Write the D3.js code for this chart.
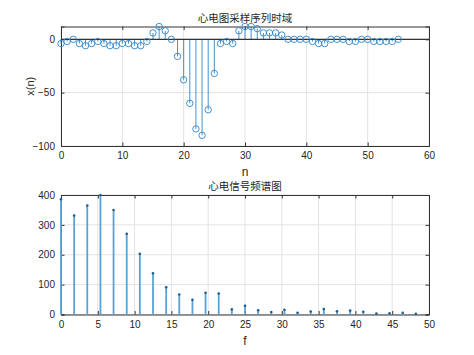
<!DOCTYPE html>
<html>
<head>
<meta charset="utf-8">
<script src="https://cdn.jsdelivr.net/npm/d3@7"></script>
<style>
  body { margin: 0; background: #fff; }
  svg text { font-family: "Liberation Sans", Arial, sans-serif; fill: #262626; }
  .cjk { font-family: "Noto Sans CJK SC", sans-serif; }
</style>
</head>
<body>
<div id="chart"></div>
<script>
// ---- data ----
// time domain: x(n), n = 0..55
const nValues = d3.range(56);
const xValues = [-4, -2, 0, -4, -6, -4, -2, -4, -6, -6, -4, -4, -6, -6, -2, 6, 12, 8, 0, -16,
  -38, -60, -84, -90, -66, -32, -4, -2, -4, 8, 12, 12, 10, 6, 6, 6, 4, 0, 0, 0,
  0, -2, -4, -4, 0, 0, 0, -2, -2, 0, 0, -2, -2, -2, -2, 0];
// spectrum: |X(f)|
const fValues = [0, 1.79, 3.57, 5.36, 7.14, 8.93, 10.71, 12.5, 14.29, 16.07, 17.86, 19.64, 21.43, 23.21,
  25, 26.79, 28.57, 30.36, 32.14, 33.93, 35.71, 37.5, 39.29, 41.07, 42.86, 44.64, 46.43, 48.21];
const magValues = [386, 331, 365, 400, 350, 270, 203, 138, 91, 67, 49, 73, 70, 17,
  29, 14, 8, 16, 6, 10, 18, 11, 13, 9, 3, 4, 6, 2];

const topXTicks = [0, 10, 20, 30, 40, 50, 60];
const topYTicks = [-100, -50, 0];
const botXTicks = [0, 5, 10, 15, 20, 25, 30, 35, 40, 45, 50];
const botYTicks = [0, 100, 200, 300, 400];

const W = 474, H = 355;
const blue = "#2f86c8";
const svg = d3.select("#chart").append("svg")
  .attr("width", W).attr("height", H);

// draws one MATLAB-like axes box with grid, ticks and labels
const drawAxes = (cfg) => {
  const g = svg.append("g");
  const x = d3.scaleLinear().domain(cfg.xDomain).range([cfg.left, cfg.right]);
  const y = d3.scaleLinear().domain(cfg.yDomain).range([cfg.bottom, cfg.top]);

  // grid
  g.selectAll(".gx").data(cfg.xTicks).enter().append("line")
    .attr("x1", d => x(d)).attr("x2", d => x(d))
    .attr("y1", cfg.top).attr("y2", cfg.bottom)
    .attr("stroke", "#e3e3e3").attr("stroke-width", 1);
  g.selectAll(".gy").data(cfg.yTicks).enter().append("line")
    .attr("x1", cfg.left).attr("x2", cfg.right)
    .attr("y1", d => y(d)).attr("y2", d => y(d))
    .attr("stroke", "#e3e3e3").attr("stroke-width", 1);

  // axes with inward ticks
  const tk = 3.5;
  const axB = d3.axisBottom(x).tickValues(cfg.xTicks).tickSize(-tk).tickPadding(6);
  const axT = d3.axisTop(x).tickValues(cfg.xTicks).tickSize(-tk).tickFormat("");
  const axL = d3.axisLeft(y).tickValues(cfg.yTicks).tickSize(-tk).tickPadding(6);
  const axR = d3.axisRight(y).tickValues(cfg.yTicks).tickSize(-tk).tickFormat("");
  const style = (sel) => {
    sel.selectAll("path, line").attr("stroke", "#333");
    sel.selectAll("text").attr("fill", "#333").style("font-size", "10px")
      .style("font-family", "'Liberation Sans', Arial, sans-serif");
  };
  g.append("g").attr("transform", `translate(0,${cfg.bottom})`).call(axB).call(style);
  g.append("g").attr("transform", `translate(0,${cfg.top})`).call(axT).call(style);
  g.append("g").attr("transform", `translate(${cfg.left},0)`).call(axL).call(style);
  g.append("g").attr("transform", `translate(${cfg.right},0)`).call(axR).call(style);

  // title and labels
  svg.append("text").attr("class", "cjk")
    .attr("x", (cfg.left + cfg.right) / 2).attr("y", cfg.top - 5)
    .attr("text-anchor", "middle").style("font-size", "10.5px")
    .text(cfg.title);
  svg.append("text")
    .attr("x", (cfg.left + cfg.right) / 2).attr("y", cfg.bottom + 30)
    .attr("text-anchor", "middle").style("font-size", "12px")
    .text(cfg.xLabel);
  if (cfg.yLabel) {
    svg.append("text")
      .attr("transform", `translate(${cfg.left - 27},${(cfg.top + cfg.bottom) / 2}) rotate(-90)`)
      .attr("text-anchor", "middle").style("font-size", "11px")
      .text(cfg.yLabel);
  }
  return { g, x, y };
};

// ---- top: time domain stem plot ----
const timeAx = drawAxes({
  left: 61, right: 429, top: 26.5, bottom: 146,
  xDomain: [0, 60], yDomain: [-100, 12],
  xTicks: topXTicks, yTicks: topYTicks,
  title: "心电图采样序列时域", xLabel: "n", yLabel: "x(n)"
});
const timeData = nValues.map((n, i) => ({ n, v: xValues[i] }));
timeAx.g.selectAll(".stem").data(timeData).enter().append("line")
  .attr("x1", d => timeAx.x(d.n)).attr("x2", d => timeAx.x(d.n))
  .attr("y1", timeAx.y(0)).attr("y2", d => timeAx.y(d.v))
  .attr("stroke", blue).attr("stroke-width", 0.9);
// baseline
timeAx.g.append("line")
  .attr("x1", timeAx.x(0)).attr("x2", timeAx.x(60))
  .attr("y1", timeAx.y(0)).attr("y2", timeAx.y(0))
  .attr("stroke", "#333").attr("stroke-width", 1.2);
timeAx.g.selectAll(".mk").data(timeData).enter().append("circle")
  .attr("cx", d => timeAx.x(d.n)).attr("cy", d => timeAx.y(d.v))
  .attr("r", 3.2).attr("fill", "none")
  .attr("stroke", blue).attr("stroke-width", 0.9);

// ---- bottom: spectrum stem plot ----
const specAx = drawAxes({
  left: 61, right: 429, top: 195, bottom: 314.5,
  xDomain: [0, 50], yDomain: [0, 400],
  xTicks: botXTicks, yTicks: botYTicks,
  title: "心电信号频谱图", xLabel: "f", yLabel: null
});
const specData = fValues.map((f, i) => ({ f, v: magValues[i] }));
specAx.g.selectAll(".stem").data(specData).enter().append("line")
  .attr("x1", d => specAx.x(d.f)).attr("x2", d => specAx.x(d.f))
  .attr("y1", specAx.y(0)).attr("y2", d => specAx.y(d.v))
  .attr("stroke", "#5aa2d6").attr("stroke-width", 1.8);
specAx.g.selectAll(".mk").data(specData).enter().append("circle")
  .attr("cx", d => specAx.x(d.f)).attr("cy", d => specAx.y(d.v))
  .attr("r", 1.3).attr("fill", "#1f5f8f");
</script>
</body>
</html>
